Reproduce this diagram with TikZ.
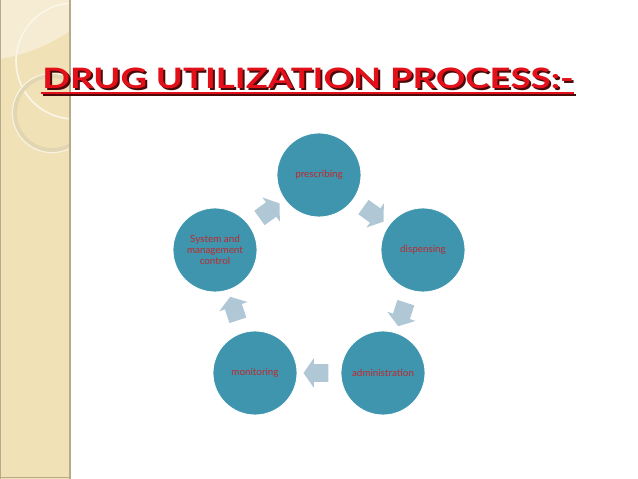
\documentclass[tikz,border=0pt]{standalone}
\usepackage{fontspec}
\setmainfont{Lato}
\usetikzlibrary{shapes.arrows,positioning}
\definecolor{band}{HTML}{F0E1B7}
\definecolor{bandLight}{HTML}{F5ECD3}
\definecolor{bandRing}{HTML}{E2D5B2}
\definecolor{bandEdge}{HTML}{B7AA8A}
\definecolor{stageTeal}{HTML}{3E95AD}
\definecolor{cycleFill}{HTML}{B0C8D5}
\definecolor{titleRed}{HTML}{E3101A}
\definecolor{titleShadow}{HTML}{4A0A0A}
\definecolor{labelRed}{HTML}{C0282D}
\newcommand{\headingtext}{\scalebox{1.30}[1]{\bfseries DRUG UTILIZATION PROCESS:-}}
\tikzset{
    stage/.style={circle, fill=stageTeal, draw=white, line width=0.6pt,
                  minimum size=2.1cm, inner sep=1pt, align=center,
                  font=\fontsize{7}{8}\selectfont, text=labelRed},
    cyclearrow/.style={single arrow, fill=cycleFill, draw=none,
                  minimum height=0.62cm, inner xsep=0pt, inner ysep=0.215cm,
                  single arrow head extend=0.15cm, single arrow tip angle=110,
                  sloped, allow upside down},
    heading/.style={font=\fontsize{20}{24}\selectfont, inner sep=0pt},
}

\begin{document}
\begin{tikzpicture}

\useasboundingbox (0,0) rectangle (15.95,11.975);

% ---------------------------------------------------------------------------
% left band
% ---------------------------------------------------------------------------
\begin{scope}
    \clip (0,0) rectangle (1.75,11.975);
    \fill[band] (0,0) rectangle (1.75,11.975);
    \fill[bandLight] (0,10.5) .. controls (0.6,10.6) and (1.25,10.85) .. (1.75,11.2)
        -- (1.75,11.975) -- (0,11.975) -- cycle;
    \draw[white!70!band, line width=1.1pt] (1.85,10.45) circle (1.45);
    \draw[bandRing, line width=3pt] (1.3,9.15) circle (0.93);
    \draw[white!60!band, line width=0.8pt] (1.3,9.15) circle (0.99);
\end{scope}
\draw[bandEdge, line width=1.2pt] (1.75,0) -- (1.75,11.975);
\draw[bandEdge, line width=0.6pt] (0,0.05) -- (1.75,0.05);
\draw[bandEdge, line width=0.6pt] (0.01,0) -- (0.01,11.975);

% ---------------------------------------------------------------------------
% title
% ---------------------------------------------------------------------------
\node[heading, anchor=base west, text=titleShadow] (titleshadow) at (1.10,9.70)
    {\headingtext};
\node[heading, anchor=base west, text=titleRed] (title) at (1.05,9.75)
    {\headingtext};
\draw[titleShadow, line width=1.4pt]
    ([xshift=-1pt,yshift=-3pt]titleshadow.base west) -- ([yshift=-3pt]titleshadow.base east);
\draw[titleRed, line width=1.4pt]
    ([xshift=-1pt,yshift=-3pt]title.base west) -- ([yshift=-3pt]title.base east);

% ---------------------------------------------------------------------------
% cycle
% ---------------------------------------------------------------------------
\node[stage] (prescribing) at (7.975,7.600) {prescribing};
\node[stage] (dispensing)  at (10.575,5.725) {dispensing};
\node[stage] (administration) at (9.575,2.650) {administration};
\node[stage] (monitoring)  at (6.375,2.650) {monitoring};
\node[stage] (system)      at (5.375,5.725) {System and\\management\\control};

\path (prescribing) -- node[cyclearrow] {} (dispensing);
\path (dispensing) -- node[cyclearrow] {} (administration);
\path (administration) -- node[cyclearrow] {} (monitoring);
\path (monitoring) -- node[cyclearrow] {} (system);
\path (system) -- node[cyclearrow] {} (prescribing);

\end{tikzpicture}
\end{document}
